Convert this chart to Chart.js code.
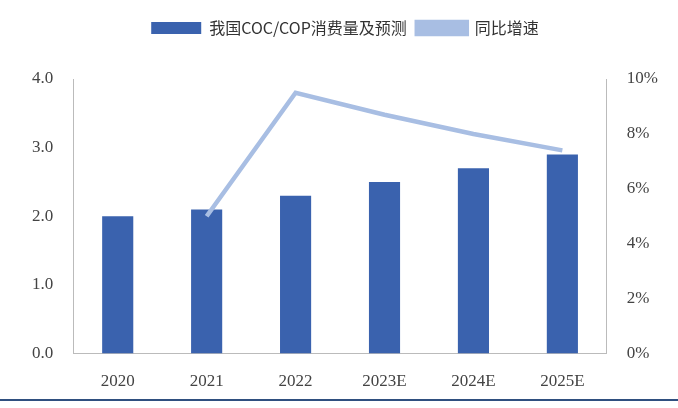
<!DOCTYPE html>
<html>
<head>
<script src="https://cdn.jsdelivr.net/npm/chart.js"></script>
<style>
  body { margin: 0; background: #fff; }
  #wrap { width: 678px; height: 408px; position: relative; }
  #bottomLine { position: absolute; left: 0; right: 0; top: 399px; height: 2px; background: #2f4f7f; }
</style>
</head>
<body>
<div id="wrap">
  <canvas id="c" width="678" height="406"></canvas>
  <div id="bottomLine"></div>
</div>
<script>
const categories = ['2020', '2021', '2022', '2023E', '2024E', '2025E'];
const consumption = [2.0, 2.1, 2.3, 2.5, 2.7, 2.9];
const growth = [null, 5.0, 9.5, 8.7, 8.0, 7.4];

const legendSpace = {
  id: 'legendSpace',
  beforeInit(chart) {
    const orig = chart.legend.fit;
    chart.legend.fit = function () { orig.bind(chart.legend)(); this.height += 33; };
  }
};

new Chart(document.getElementById('c'), {
  data: {
    labels: categories,
    datasets: [
      { type: 'line', label: '同比增速', data: growth, yAxisID: 'y1',
        borderColor: '#a8bee3', backgroundColor: '#a8bee3', borderWidth: 4.5, pointRadius: 0,
        order: 0 },
      { type: 'bar', label: '我国COC/COP消费量及预测', data: consumption, yAxisID: 'y',
        backgroundColor: '#3a62ae', categoryPercentage: 1, barPercentage: 0.35, order: 1 }
    ]
  },
  options: {
    responsive: false, animation: false,
    layout: { padding: { left: 20, right: 8, top: 10, bottom: 4 } },
    plugins: {
      legend: {
        reverse: true,
        labels: { font: { family: 'Noto Sans CJK SC', size: 16 }, color: '#333',
          boxWidth: 50, boxHeight: 12, padding: 10 }
      },
      tooltip: { enabled: false }
    },
    scales: {
      x: { grid: { display: false }, border: { color: '#bbb' },
        ticks: { font: { family: 'Liberation Serif', size: 17 }, color: '#444', padding: 10 } },
      y: { min: 0, max: 4, grid: { display: false }, border: { color: '#bbb' },
        ticks: { stepSize: 1, callback: v => v.toFixed(1),
          font: { family: 'Liberation Serif', size: 17 }, color: '#444', padding: 12 } },
      y1: { position: 'right', min: 0, max: 10, grid: { display: false }, border: { color: '#bbb' },
        ticks: { stepSize: 2, callback: v => v + '%',
          font: { family: 'Liberation Serif', size: 17 }, color: '#444', padding: 12 } }
    }
  },
  plugins: [legendSpace]
});
</script>
</body>
</html>
